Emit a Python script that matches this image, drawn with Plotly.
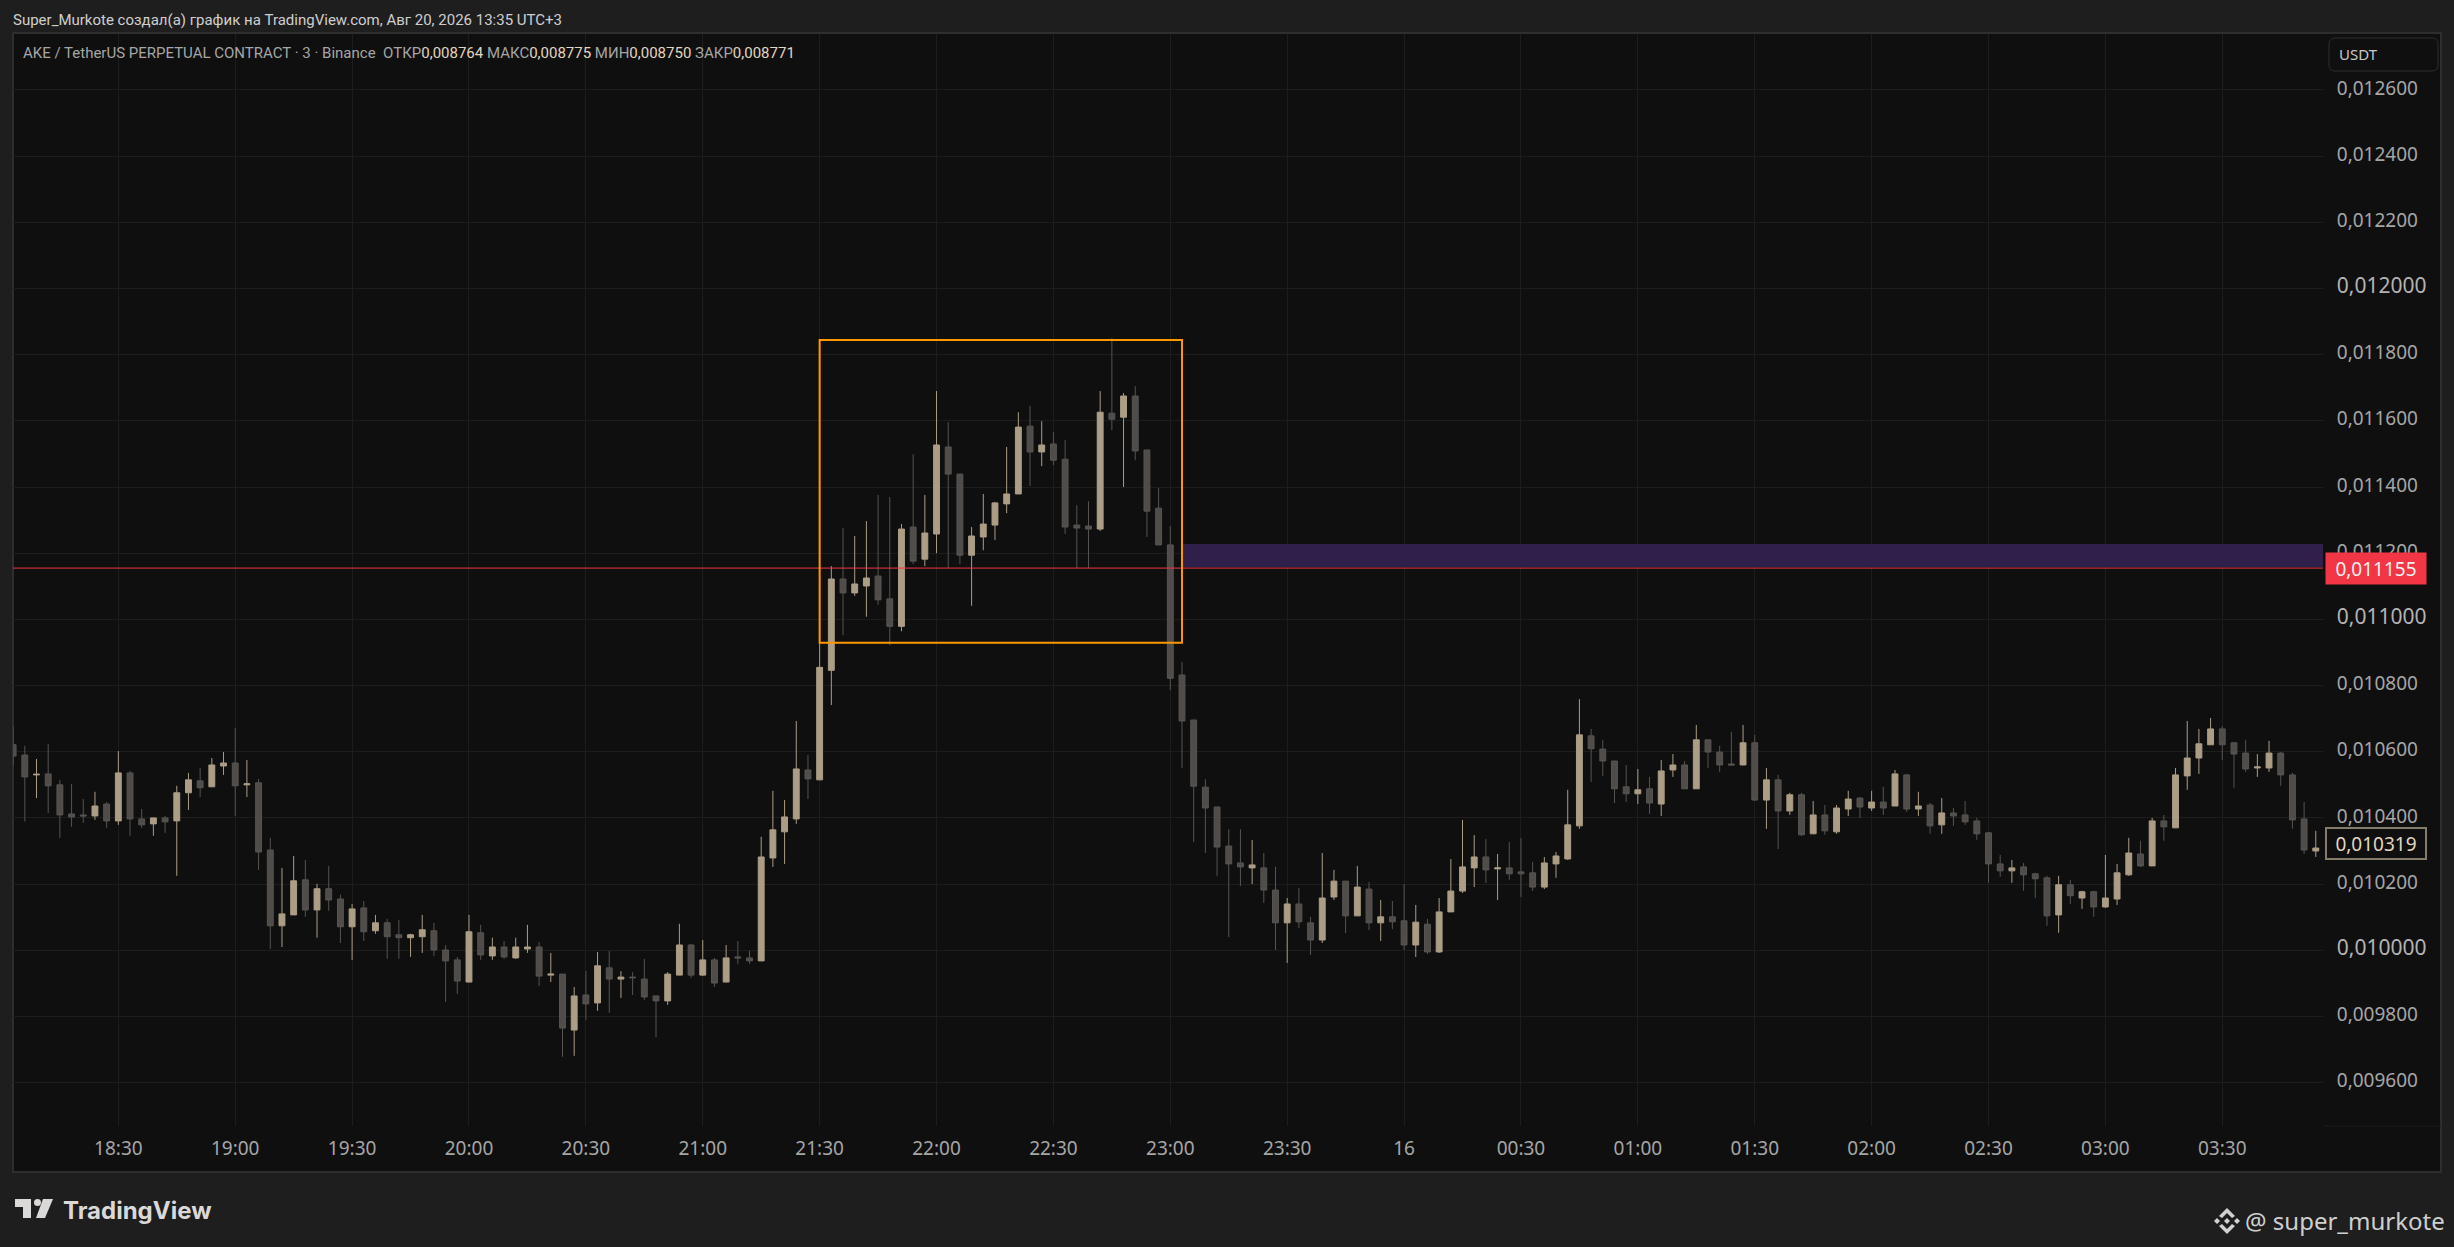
# 3 minute AKE/USDT candles with a marked range and a level, TradingView dark look
import pandas as pd
import plotly.graph_objects as go

# prices are kept in millionths, as shown on the price scale (10621 = 0,010621)
opens_e6 = [
    10621,10590,10530,10533,10500,10412,10409,10406,10442,10391,10536,10397,10382,10400,10391,10476,10512,10494,10557,
    10566,10500,10506,10303,10074,10107,10213,10122,10186,10155,10071,10128,10059,10083,10047,10038,10041,10059,10001,9971,
    9904,10053,9983,10010,9977,10004,10010,9925,9928,9759,9865,9841,9947,9913,9919,9913,9862,9847,9925,10016,
    9925,9971,9904,9980,9977,9968,10279,10358,10397,10545,10515,10846,11122,11080,11101,11131,11062,10979,11279,11182,
    11258,11521,11439,11194,11249,11285,11349,11379,11584,11506,11530,11484,11285,11282,11273,11623,11611,11675,11512,11336,
    11225,10832,10696,10493,10433,10315,10264,10249,10249,10182,10083,10140,10083,10031,10161,10209,10104,10185,10083,10101,
    10089,10016,10079,9995,10116,10179,10249,10282,10246,10249,10237,10234,10191,10261,10276,10376,10648,10608,10572,10494,
    10473,10488,10442,10545,10560,10488,10636,10599,10563,10560,10627,10454,10515,10421,10470,10352,10409,10358,10427,10460,
    10430,10448,10436,10530,10427,10439,10379,10415,10409,10391,10355,10261,10240,10252,10231,10219,10107,10198,10158,10177,
    10131,10155,10228,10291,10255,10391,10370,10527,10581,10621,10669,10627,10596,10551,10551,10596,10530,10397,10300,10308,
]
highs_e6 = [
    10676,10618,10578,10624,10515,10503,10457,10479,10448,10602,10542,10427,10400,10406,10497,10536,10551,10581,10599,
    10672,10575,10518,10340,10249,10285,10273,10201,10255,10168,10140,10149,10107,10095,10092,10050,10107,10083,10016,9980,
    10107,10077,10038,10028,10038,10077,10025,9992,9928,9889,9938,9995,9998,9937,9934,9974,9862,9934,10080,10019,
    10031,9977,10016,10028,9998,10343,10482,10454,10693,10590,10929,11161,11276,11252,11297,11376,11370,11288,11499,11376,
    11690,11596,11439,11279,11379,11355,11521,11626,11645,11599,11566,11542,11345,11357,11690,11850,11684,11705,11512,11397,
    11282,10871,10696,10517,10433,10366,10366,10333,10294,10252,10158,10188,10101,10294,10243,10209,10255,10206,10152,10149,
    10200,10137,10095,10158,10276,10394,10348,10336,10291,10327,10339,10267,10282,10297,10485,10759,10669,10636,10572,10560,
    10548,10524,10575,10593,10572,10681,10636,10618,10660,10681,10651,10551,10530,10476,10476,10451,10439,10439,10482,10463,
    10482,10494,10545,10533,10479,10445,10460,10430,10451,10400,10355,10288,10273,10264,10234,10225,10225,10213,10180,10180,
    10288,10261,10340,10331,10400,10409,10551,10693,10669,10702,10678,10627,10636,10593,10633,10599,10536,10448,10361,10345,
]
lows_e6 = [
    10560,10389,10460,10415,10340,10373,10385,10394,10370,10379,10346,10370,10346,10355,10225,10424,10463,10494,10530,
    10406,10463,10243,10004,10010,10107,10101,10038,10119,10022,9971,10028,10050,9974,9974,9980,9992,9983,9844,9868,
    9904,9971,9971,9974,9974,9992,9892,9904,9678,9681,9789,9817,9811,9856,9865,9850,9738,9835,9925,9916,
    9922,9889,9904,9959,9959,9968,10252,10261,10382,10457,10515,10741,10952,11071,11008,11044,10922,10964,11167,11161,
    11200,11155,11167,11041,11209,11240,11321,11379,11403,11463,11466,11258,11155,11155,11267,11572,11400,11481,11249,11225,
    10786,10551,10327,10294,10225,10040,10194,10200,10143,10001,9962,10067,9986,10022,10152,10052,10104,10061,10028,10064,
    10001,9980,9989,9992,10116,10173,10191,10203,10152,10213,10161,10179,10185,10219,10273,10367,10509,10527,10445,10448,
    10442,10412,10406,10524,10488,10488,10551,10539,10560,10560,10451,10367,10306,10409,10346,10352,10349,10352,10406,10400,
    10421,10409,10436,10418,10406,10352,10352,10376,10379,10334,10204,10222,10204,10180,10158,10074,10053,10140,10125,10101,
    10128,10137,10225,10252,10255,10331,10370,10485,10533,10621,10575,10491,10539,10524,10539,10497,10367,10291,10282,10300,
]
closes_e6 = [
    10587,10524,10532,10497,10409,10403,10406,10436,10391,10536,10397,10379,10400,10388,10476,10515,10491,10560,10566,
    10497,10503,10297,10074,10110,10210,10122,10186,10152,10071,10125,10056,10083,10041,10038,10047,10062,10001,9968,9907,
    10056,9986,10010,9980,10010,10010,9922,9928,9765,9862,9838,9953,9913,9919,9917,9859,9847,9928,10016,9925,
    9971,9901,9977,9977,9968,10282,10364,10403,10548,10518,10855,11122,11080,11107,11125,11059,10979,11273,11176,11261,
    11527,11439,11194,11252,11288,11352,11379,11581,11506,11527,11481,11279,11276,11273,11626,11605,11675,11509,11327,11225,
    10822,10693,10496,10430,10312,10261,10252,10258,10182,10083,10140,10086,10031,10158,10209,10104,10191,10083,10101,10086,
    10016,10085,9995,10116,10179,10252,10282,10243,10249,10231,10231,10191,10264,10285,10379,10651,10609,10572,10488,10473,
    10485,10445,10542,10560,10488,10636,10599,10560,10560,10627,10454,10515,10421,10470,10349,10409,10361,10430,10457,10433,
    10448,10430,10533,10427,10436,10376,10415,10406,10388,10352,10261,10240,10249,10228,10216,10104,10198,10165,10177,10131,
    10158,10234,10294,10255,10391,10373,10530,10581,10624,10669,10621,10593,10548,10554,10596,10530,10394,10303,10309,10319,
]

price_ticks = [0.0096, 0.0098, 0.0100, 0.0102, 0.0104, 0.0106, 0.0108, 0.0110, 0.0112, 0.0114, 0.0116, 0.0118, 0.0120, 0.0122, 0.0124, 0.0126]
round_prices = [0.0100, 0.0110, 0.0120]
time_ticks = ['2026-08-15 18:30', '2026-08-15 19:00', '2026-08-15 19:30', '2026-08-15 20:00', '2026-08-15 20:30',
              '2026-08-15 21:00', '2026-08-15 21:30', '2026-08-15 22:00', '2026-08-15 22:30', '2026-08-15 23:00',
              '2026-08-15 23:30', '2026-08-16 00:00', '2026-08-16 00:30', '2026-08-16 01:00', '2026-08-16 01:30',
              '2026-08-16 02:00', '2026-08-16 02:30', '2026-08-16 03:00', '2026-08-16 03:30']
time_labels = ['18:30', '19:00', '19:30', '20:00', '20:30', '21:00', '21:30', '22:00', '22:30', '23:00',
               '23:30', '16', '00:30', '01:00', '01:30', '02:00', '02:30', '03:00', '03:30']

# drawn objects on the chart
box_start, box_end = '2026-08-15 21:30', '2026-08-15 23:03'
box_low, box_high = 0.010929, 0.011844
zone_low, zone_high = 0.011158, 0.011228
level_price = 0.011155
last_price = 0.010319

times = pd.date_range('2026-08-15 18:03', periods=len(opens_e6), freq='3min')
view_start, view_end = '2026-08-15 18:02:58', '2026-08-16 03:55:51'

# colours
OUTER = '#1e1e1e'
PANE = '#0f0f0f'
FRAME = '#2e2e2e'
GRID = '#1d1d1d'
AXIS_TEXT = '#a6a6a6'
UP = '#ac9d86'
DOWN = '#4f4c49'
DOWN_LINE = '#575451'
VALUE_TEXT = '#e2d6bf'

# page and plot area in pixels
W, H = 2454, 1247
L, R, T, B = 13, 2323, 34, 1126


def px_x(x):
    return (x - L) / (R - L)


def px_y(y):
    return 1 - (y - T) / (B - T)


def poly(points):
    return 'M' + ' L'.join(f'{px_x(x)},{px_y(y)}' for x, y in points) + ' Z'


def paper_shape(**kw):
    return dict(xref='paper', yref='paper', **kw)


def price_label(p):
    text = f'{p:.6f}'.replace('.', ',')
    if p in round_prices:
        return f'<span style="font-size:21px;color:#b4b4b4">{text}</span>'
    return text


def note(text, x, y, size, color, anchor='left', family='Roboto'):
    return dict(text=text, xref='paper', yref='paper', x=px_x(x), y=px_y(y), xanchor=anchor, yanchor='middle',
                showarrow=False, font=dict(size=size, color=color, family=family))


fig = go.Figure(go.Candlestick(
    x=times,
    open=[v / 1e6 for v in opens_e6],
    high=[v / 1e6 for v in highs_e6],
    low=[v / 1e6 for v in lows_e6],
    close=[v / 1e6 for v in closes_e6],
    increasing=dict(fillcolor=UP, line=dict(color=UP, width=1)),
    decreasing=dict(fillcolor=DOWN, line=dict(color=DOWN_LINE, width=1)),
    whiskerwidth=0,
    showlegend=False,
))

shapes = [
    # pane frame and the stub under the price scale
    paper_shape(type='rect', layer='below', x0=px_x(13), x1=px_x(2441), y0=px_y(33), y1=px_y(1172),
                fillcolor=PANE, line=dict(color=FRAME, width=2)),
    paper_shape(type='line', x0=px_x(2324), x1=px_x(2441), y0=px_y(1126), y1=px_y(1126), line=dict(color=GRID, width=1)),
    # purple zone, level and orange range
    dict(type='rect', layer='between', xref='x', yref='y', x0=box_end, x1=view_end, y0=zone_low, y1=zone_high,
         fillcolor='#2f1f4b', line=dict(width=0)),
    dict(type='line', xref='paper', yref='y', x0=0, x1=1, y0=level_price, y1=level_price,
         line=dict(color='#f23645', width=1)),
    dict(type='rect', xref='x', yref='y', x0=box_start, x1=box_end, y0=box_low, y1=box_high,
         fillcolor='rgba(0,0,0,0)', line=dict(color='#ff9800', width=2)),
    # USDT button
    paper_shape(type='path', path=(
        f'M{px_x(2335)},{px_y(38)} L{px_x(2432)},{px_y(38)} Q{px_x(2438)},{px_y(38)} {px_x(2438)},{px_y(44)} '
        f'L{px_x(2438)},{px_y(65)} Q{px_x(2438)},{px_y(71)} {px_x(2432)},{px_y(71)} L{px_x(2335)},{px_y(71)} '
        f'Q{px_x(2329)},{px_y(71)} {px_x(2329)},{px_y(65)} L{px_x(2329)},{px_y(44)} Q{px_x(2329)},{px_y(38)} {px_x(2335)},{px_y(38)} Z'),
        fillcolor=PANE, line=dict(color=FRAME, width=1)),
    # TradingView logo
    paper_shape(type='path', path=poly([(15, 1199), (31, 1199), (31, 1218), (23, 1218), (23, 1207), (15, 1207)]),
                fillcolor='#dbd8d8', line=dict(width=0)),
    paper_shape(type='circle', x0=px_x(34), x1=px_x(41), y0=px_y(1199), y1=px_y(1206), fillcolor='#dbd8d8', line=dict(width=0)),
    paper_shape(type='path', path=poly([(43, 1199), (53, 1199), (45, 1218), (36, 1218)]),
                fillcolor='#dbd8d8', line=dict(width=0)),
]

# Binance mark next to the author name
cx, cy = 2227, 1221
for dx, dy, r in [(0, 0, 3), (-10, 0, 3), (10, 0, 3)]:
    shapes.append(paper_shape(type='path', path=poly([(cx + dx, cy + dy - r), (cx + dx + r, cy + dy), (cx + dx, cy + dy + r), (cx + dx - r, cy + dy)]),
                              fillcolor='#d2d2d2', line=dict(width=0)))
for s in [-1, 1]:
    shapes.append(paper_shape(type='path', path=poly([(cx, cy + s * 13), (cx + 8, cy + s * 5), (cx + 5, cy + s * 3), (cx, cy + s * 8), (cx - 5, cy + s * 3), (cx - 8, cy + s * 5)]),
                              fillcolor='#d2d2d2', line=dict(width=0)))

LEGEND_GREY = '#a6a6a6'


def ohlc(name, value):
    return f'<span style="color:{LEGEND_GREY}">{name}</span><span style="color:{VALUE_TEXT}">{value}</span>'


legend_text = (f'<span style="color:{LEGEND_GREY}">AKE / TetherUS PERPETUAL CONTRACT · 3 · Binance  </span>'
               + ' '.join([ohlc('ОТКР', '0,008764'), ohlc('МАКС', '0,008775'), ohlc('МИН', '0,008750'), ohlc('ЗАКР', '0,008771')]))

annotations = [
    note('Super_Murkote создал(а) график на TradingView.com, Авг 20, 2026 13:35 UTC+3', 11, 19.5, 15, '#cfcfcf'),
    note(legend_text, 21, 53, 15, LEGEND_GREY),
    note('USDT', 2337, 54, 15, '#c8c8c8', family='Noto Sans'),
    note('<b>TradingView</b>', 61, 1210, 24, '#dbd8d8', family='Inter'),
    note('@ super_murkote', 2243, 1220, 24, '#cfcfcf', family='Noto Sans'),
    # price labels sitting on the scale
    dict(text=f'{level_price:.6f}'.replace('.', ','), xref='paper', yref='y', x=1, y=level_price, xanchor='left',
         yanchor='middle', xshift=2, width=98, height=29, align='center', showarrow=False, bgcolor='#f23645',
         font=dict(size=19, color='#f4f0f0', family='Noto Sans')),
    dict(text=f'{last_price:.6f}'.replace('.', ','), xref='paper', yref='y', x=1, y=last_price, xanchor='left',
         yanchor='middle', xshift=2, yshift=1, width=96, height=27, align='center', showarrow=False, bgcolor=PANE,
         bordercolor='#857b6b', borderwidth=2, font=dict(size=19, color=VALUE_TEXT, family='Noto Sans')),
]

fig.update_layout(
    width=W, height=H,
    margin=dict(l=L, r=W - R, t=T, b=H - B, pad=0),
    paper_bgcolor=OUTER,
    plot_bgcolor=PANE,
    boxgap=0.28,
    shapes=shapes,
    annotations=annotations,
    showlegend=False,
    font=dict(family='Noto Sans', color=AXIS_TEXT),
    xaxis=dict(
        type='date',
        range=[view_start, view_end],
        rangeslider=dict(visible=False),
        tickvals=time_ticks,
        ticktext=time_labels,
        tickfont=dict(size=19, color=AXIS_TEXT),
        ticks='outside', ticklen=5, tickcolor=PANE,
        gridcolor=GRID, gridwidth=1,
        showline=False, zeroline=False,
    ),
    yaxis=dict(
        side='right',
        range=[0.009469, 0.012769],
        tickvals=price_ticks,
        ticktext=[price_label(p) for p in price_ticks],
        tickfont=dict(size=19, color=AXIS_TEXT),
        ticklabelshift=-2,
        ticks='outside', ticklen=9, tickcolor=PANE,
        gridcolor=GRID, gridwidth=1,
        showline=False, zeroline=False,
    ),
)

fig.write_html("out.html", config=dict(displayModeBar=False), post_script="document.body.style.margin='0';")
